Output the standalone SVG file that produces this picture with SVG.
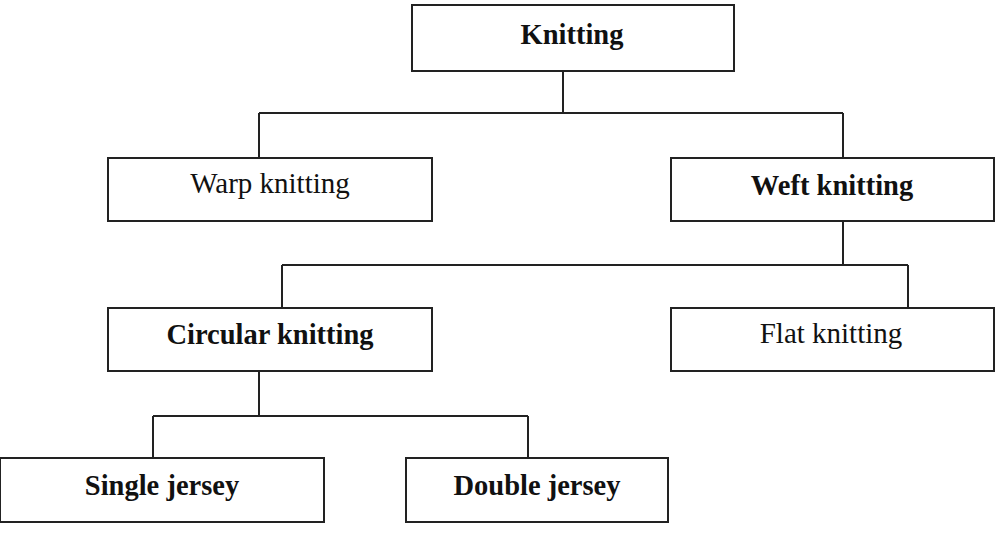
<svg xmlns="http://www.w3.org/2000/svg" width="1005" height="551" viewBox="0 0 1005 551">
<style>
.box{fill:#fff;stroke:#222;stroke-width:2}
.ln{fill:none;stroke:#222;stroke-width:2}
.t{font-family:"Liberation Serif","Times New Roman",serif;font-size:29px;fill:#111;text-anchor:middle}
.b{font-weight:bold;font-size:28.5px}
</style>
<rect width="1005" height="551" fill="#fff"/>
<g id="connectors">
<path class="ln" d="M563 71V113M259 113H843M259 113V158M843 113V158"/>
<path class="ln" d="M843 221V265M282 265H908M282 265V308M908 265V308"/>
<path class="ln" d="M259 371V416M153 416H528M153 416V458M528 416V458"/>
</g>
<g id="knitting"><rect class="box" x="412" y="5" width="322" height="66"/><text class="t b" x="572" y="44">Knitting</text></g>
<g id="warp"><rect class="box" x="108" y="158" width="324" height="63"/><text class="t" x="270" y="193">Warp knitting</text></g>
<g id="weft"><rect class="box" x="671" y="158" width="323" height="63"/><text class="t b" x="832" y="195">Weft knitting</text></g>
<g id="circular"><rect class="box" x="108" y="308" width="324" height="63"/><text class="t b" x="270" y="344">Circular knitting</text></g>
<g id="flat"><rect class="box" x="671" y="308" width="323" height="63"/><text class="t" x="831" y="343">Flat knitting</text></g>
<g id="single"><rect class="box" x="0" y="458" width="324" height="64"/><text class="t b" x="162" y="495">Single jersey</text></g>
<g id="double"><rect class="box" x="406" y="458" width="262" height="64"/><text class="t b" x="537" y="495">Double jersey</text></g>
</svg>
